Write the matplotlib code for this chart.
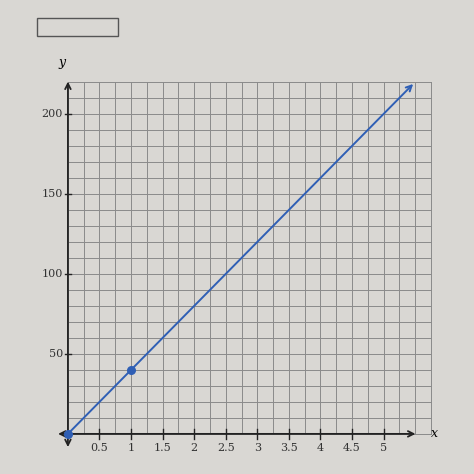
import matplotlib
matplotlib.use('Agg')
import matplotlib.pyplot as plt
import numpy as np

# data
x_ticks = [0.5, 1, 1.5, 2, 2.5, 3, 3.5, 4, 4.5, 5]
y_ticks = [50, 100, 150, 200]
line_x = [0, 5.5]
line_y = [0, 220]
pts_x = [0, 1]
pts_y = [0, 40]

bg = '#d9d7d3'
fig = plt.figure(figsize=(4.74, 4.74), dpi=100, facecolor=bg)
ax = fig.add_axes([0.11, 0.034, 0.819, 0.82], facecolor=bg)
ax.set_xlim(-0.25, 5.9)
ax.set_ylim(-15, 228)
for s in ax.spines.values():
    s.set_visible(False)
ax.set_xticks([]); ax.set_yticks([])

# grid
for gx in np.arange(0, 5.76, 0.25):
    ax.plot([gx, gx], [0, 220], color='#8a8a8a', lw=0.7, zorder=1)
for gy in np.arange(0, 221, 10):
    ax.plot([0, 5.75], [gy, gy], color='#8a8a8a', lw=0.7, zorder=1)

# axes with arrows
ap = dict(arrowstyle='<->', color='#222222', lw=1.3)
ax.annotate('', xy=(5.55, 0), xytext=(-0.2, 0), arrowprops=ap, zorder=3)
ax.annotate('', xy=(0, 222), xytext=(0, -10), arrowprops=ap, zorder=3)
ax.text(5.75, 0, 'x', fontsize=9, style='italic', family='DejaVu Serif', va='center')
ax.text(-0.1, 228, 'y', fontsize=9, style='italic', family='DejaVu Serif', va='bottom', ha='center')

for t in x_ticks:
    ax.plot([t, t], [-3, 3], color='#222222', lw=1, zorder=3)
    ax.text(t, -6, str(t).rstrip('0').rstrip('.') if t != int(t) else str(int(t)),
            fontsize=8, family='DejaVu Serif', ha='center', va='top', color='#333333')
for t in y_ticks:
    ax.plot([-0.05, 0.05], [t, t], color='#222222', lw=1, zorder=3)
    ax.text(-0.08, t, str(t), fontsize=8, family='DejaVu Serif', ha='right', va='center', color='#333333')

# line and points
ax.annotate('', xy=(line_x[1], line_y[1]), xytext=(line_x[0], line_y[0]),
            arrowprops=dict(arrowstyle='->', color='#2f5fb5', lw=1.4), zorder=4)
ax.scatter(pts_x, pts_y, s=30, color='#2f5fb5', zorder=5)

# answer box
fig.patches.append(plt.Rectangle((0.078, 0.925), 0.17, 0.038, transform=fig.transFigure,
                                 facecolor='none', edgecolor='#555555', lw=1))

fig.savefig('out.png', dpi=100, facecolor=bg)
